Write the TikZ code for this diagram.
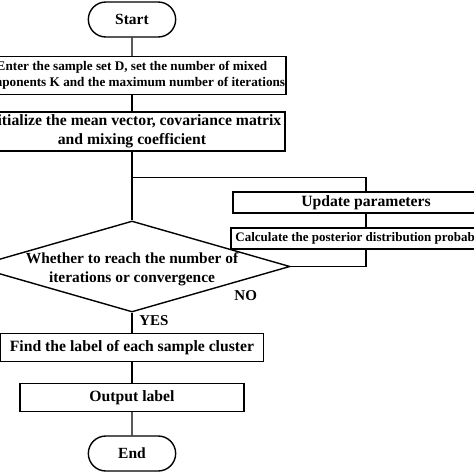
\documentclass[tikz,border=0pt]{standalone}
\usepackage{fontspec}
\setmainfont{Liberation Serif}
\usetikzlibrary{shapes, positioning}
\NewDocumentCommand{\fs}{m}{\fontsize{#1}{#1}\selectfont\bfseries}

\begin{document}
\begin{tikzpicture}[node distance={56pt}, line width=1.4pt,
    main/.style = {draw, rectangle, align=center, inner sep=1pt, font=\fs{15.7}},
    term/.style = {draw, rounded rectangle, minimum width=94pt, minimum height=35pt, font=\fs{15.5}},
    cond/.style = {draw, diamond, minimum width=316pt, minimum height=91pt, inner sep=0pt}]
    \path[use as bounding box, clip] (0pt,0pt) rectangle (474pt,-474pt);

    \node[term] (start) at (132pt,-19.5pt) {Start};
    \node[main, minimum width=306pt, minimum height=38pt, font=\fs{13.2}] (enter) [below of=start] {Enter the sample set D, set the number of mixed\\[3pt]components K and the maximum number of iterations};
    \node[main, minimum width=306pt, minimum height=39pt] (init) [below of=enter] {Initialize the mean vector, covariance matrix\\[3pt]and mixing coefficient};

    \coordinate (split) at ([yshift=-26pt]init.south);
    \node[main, minimum width=266pt, minimum height=21pt] (update) [below of=init, xshift=234pt, yshift=-15pt] {Update parameters};
    \node[main, minimum width=270pt, minimum height=21pt, font=\fs{13}] (calc) [below of=update, yshift=20pt] {Calculate the posterior distribution probability};

    \node[cond] (cond) [below of=init, yshift=-79pt] {};
    \node[align=center, font=\fs{15.4}, yshift=-3pt] (condtext) at (cond) {Whether to reach the number of\\[4pt]iterations or convergence};

    \node[main, minimum width=263pt, minimum height=28pt] (find) [below of=cond, yshift=-25pt] {Find the label of each sample cluster};
    \node[main, minimum width=224pt, minimum height=28pt] (output) [below of=find, yshift=6pt] {Output label};
    \node[term] (end) [below of=output] {End};

    \node[font=\fs{15}] (no) at ([xshift=-45pt, yshift=-29.5pt]cond.east) {NO};
    \node[font=\fs{15}] (yes) at ([xshift=22pt, yshift=-7.5pt]cond.south) {YES};

    \draw (start) -- (enter);
    \draw (enter) -- (init);
    \draw (init) -- (cond);
    \draw (split) -| (update);
    \draw (update) -- (calc);
    \draw (calc) |- (cond.east);
    \draw (cond) -- (find);
    \draw (find) -- (output);
    \draw (output) -- (end);
\end{tikzpicture}
\end{document}
